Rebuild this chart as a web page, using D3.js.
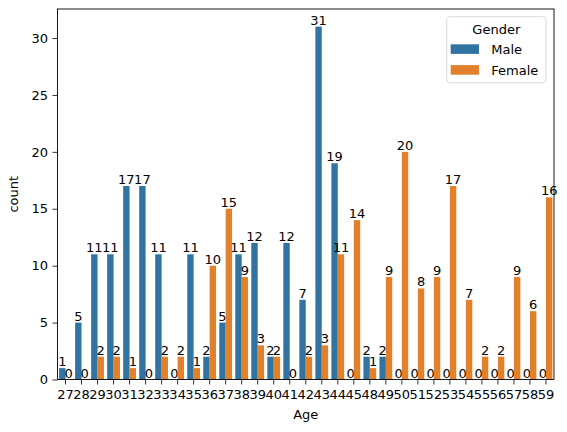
<!DOCTYPE html>
<html>
<head>
<meta charset="utf-8">
<script src="https://cdn.jsdelivr.net/npm/d3@7"></script>
<style>
  body { margin: 0; background: #fff; }
  svg { display: block; font-family: "DejaVu Sans", sans-serif; }
</style>
</head>
<body>
<svg id="chart" width="567" height="432"></svg>
<script>
const ages = ["27","28","29","30","31","32","33","34","35","36","37","38","39","40","41","42","43","44","45","48","49","50","51","52","53","54","55","56","57","58","59"];
const maleCounts = [1,5,11,11,17,17,11,0,11,2,5,11,12,2,12,7,31,19,0,2,2,0,0,0,0,0,0,0,0,0,0];
const femaleCounts = [0,0,2,2,1,0,2,2,1,10,15,9,3,2,0,2,3,11,14,1,9,20,8,9,17,7,2,2,9,6,16];
const seriesNames = ["Male","Female"];
const seriesColors = ["#3274a1","#e1812c"];
const yTicks = [0,5,10,15,20,25,30];

const svg = d3.select("#chart");
const L = 57.5, R = 554, T = 9, B = 379.5;
const fs = 13;

const x = d3.scaleBand().domain(ages).range([L, R]).padding(0);
const maxVal = d3.max([...maleCounts, ...femaleCounts]);
const y = d3.scaleLinear().domain([0, maxVal * 1.05]).range([B, T]);
const bw = x.bandwidth();
const barW = bw * 0.4;

const series = [maleCounts, femaleCounts];

// bars
series.forEach((vals, si) => {
  const g = svg.append("g");
  g.selectAll("rect").data(vals).join("rect")
    .attr("x", (d, i) => x(ages[i]) + bw * 0.1 + si * barW)
    .attr("y", d => y(d))
    .attr("width", barW)
    .attr("height", d => B - y(d))
    .attr("fill", seriesColors[si]);
  g.selectAll("text").data(vals).join("text")
    .attr("x", (d, i) => x(ages[i]) + bw * 0.1 + si * barW + barW / 2)
    .attr("y", d => y(d) - 2)
    .attr("text-anchor", "middle")
    .attr("font-size", fs)
    .attr("fill", "#000")
    .text(d => d);
});

// axes
const xAxis = d3.axisBottom(x).tickSize(5).tickPadding(5);
const gx = svg.append("g").attr("transform", `translate(0,${B})`).call(xAxis);
gx.select(".domain").remove();
gx.selectAll("text").attr("font-size", fs).attr("font-family", "DejaVu Sans").attr("fill", "#000");
gx.selectAll("line").attr("stroke", "#000").attr("stroke-width", 0.8);

const yAxis = d3.axisLeft(y).tickValues(yTicks).tickSize(5).tickPadding(4.5);
const gy = svg.append("g").attr("transform", `translate(${L},0)`).call(yAxis);
gy.select(".domain").remove();
gy.selectAll("text").attr("font-size", fs).attr("font-family", "DejaVu Sans").attr("fill", "#000");
gy.selectAll("line").attr("stroke", "#000").attr("stroke-width", 0.8);

// frame
svg.append("rect").attr("x", L).attr("y", T).attr("width", R - L).attr("height", B - T)
  .attr("fill", "none").attr("stroke", "#000").attr("stroke-width", 0.9);

// axis labels
svg.append("text").attr("x", (L + R) / 2).attr("y", 419).attr("text-anchor", "middle")
  .attr("font-size", fs).text("Age");
svg.append("text").attr("transform", `translate(18,${(T + B) / 2}) rotate(-90)`)
  .attr("text-anchor", "middle").attr("font-size", fs).text("count");

// legend
const lg = svg.append("g");
lg.append("rect").attr("x", 446.7).attr("y", 16.7).attr("width", 99.3).attr("height", 66)
  .attr("rx", 3).attr("fill", "#fff").attr("fill-opacity", 0.8)
  .attr("stroke", "#d6d6d6").attr("stroke-width", 0.9);
lg.append("text").attr("x", 496.3).attr("y", 34).attr("text-anchor", "middle")
  .attr("font-size", fs).text("Gender");
seriesNames.forEach((name, i) => {
  const yy = 44.3 + i * 20.8;
  lg.append("rect").attr("x", 450.7).attr("y", yy).attr("width", 28.3).attr("height", 9.6)
    .attr("fill", seriesColors[i]);
  lg.append("text").attr("x", 491.3).attr("y", yy + 9.8).attr("font-size", fs).text(name);
});
</script>
</body>
</html>
